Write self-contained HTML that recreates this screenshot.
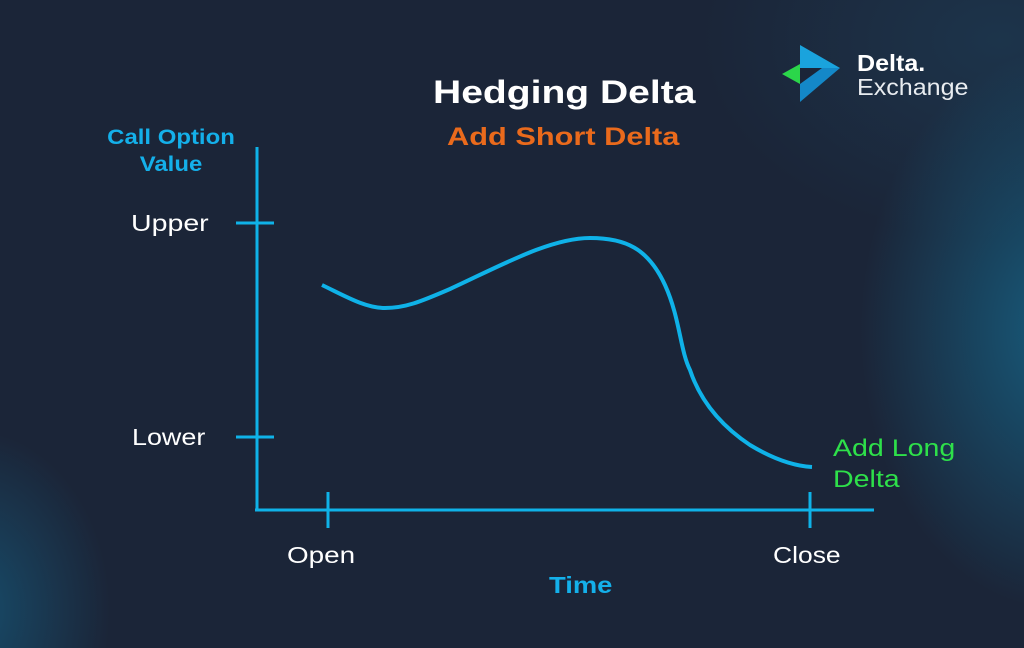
<!DOCTYPE html>
<html><head><style>
html,body{margin:0;padding:0}
body{width:1024px;height:648px;overflow:hidden;position:relative;font-family:"Liberation Sans",sans-serif;
background:radial-gradient(ellipse 200px 280px at 1060px 330px,rgba(20,120,160,0.65),rgba(20,120,160,0) 100%),
radial-gradient(ellipse 140px 180px at -30px 610px,rgba(20,110,150,0.55),rgba(20,110,150,0) 100%),
radial-gradient(ellipse 300px 200px at 1000px 40px,rgba(30,80,110,0.35),rgba(30,80,110,0) 100%),#1b2538;}
.t{position:absolute;white-space:nowrap;transform-origin:0 0}
</style></head><body>
<svg width="1024" height="648" style="position:absolute;left:0;top:0">
<g stroke="#0fb2e8" stroke-width="3" fill="none">
<line x1="257" y1="147" x2="257" y2="511"/>
<line x1="255" y1="510" x2="874" y2="510"/>
<line x1="236" y1="223" x2="274" y2="223"/>
<line x1="236" y1="437" x2="274" y2="437"/>
<line x1="328" y1="492" x2="328" y2="528"/>
<line x1="810" y1="492" x2="810" y2="528"/>
<path stroke-width="4" d="M322 285 C345 296,365 308,385 308 C405 308,420 302,450 289 C500 266,550 238,590 238 C625 238,648 248,665 285 C680 318,680 350,690 370 C700 400,720 425,750 445 C775 460,795 466,812 467"/>
</g>
<polygon points="800,45 840,68 800,90" fill="#1aa3dd"/>
<polygon points="800,68 840,68 800,102" fill="#1488c8"/>
<polygon points="782,74 800,64 800,84" fill="#2bd64a"/>
<polygon points="800,68 822,68 800,84" fill="#1b2538"/>
</svg>
<div class="t" style="left:857px;top:50px;font-size:23px;font-weight:bold;color:#fff;transform:scaleX(1.09)">Delta.</div>
<div class="t" style="left:857px;top:74px;font-size:23px;color:#e8ecf0;transform:scaleX(1.09)">Exchange</div>
<div class="t" style="left:433px;top:74px;font-size:32px;font-weight:bold;color:#fff;transform:scaleX(1.22)">Hedging Delta</div>
<div class="t" style="left:447px;top:123px;font-size:25px;font-weight:bold;color:#ea6a1c;transform:scaleX(1.23)">Add Short Delta</div>
<div class="t" style="left:106px;top:124px;width:130px;text-align:center;font-size:21px;font-weight:bold;color:#14b0ea;line-height:27px;transform:scaleX(1.14);transform-origin:65px 0">Call Option<br>Value</div>
<div class="t" style="left:131px;top:210px;font-size:23px;color:#fff;transform:scaleX(1.24)">Upper</div>
<div class="t" style="left:132px;top:424px;font-size:23px;color:#fff;transform:scaleX(1.17)">Lower</div>
<div class="t" style="left:287px;top:542px;font-size:23px;color:#fff;transform:scaleX(1.21)">Open</div>
<div class="t" style="left:773px;top:542px;font-size:23px;color:#fff;transform:scaleX(1.15)">Close</div>
<div class="t" style="left:549px;top:572px;font-size:23px;font-weight:bold;color:#14b0ea;transform:scaleX(1.19)">Time</div>
<div class="t" style="left:833px;top:433px;font-size:24px;color:#2ee04a;line-height:31px;transform:scaleX(1.19)">Add Long<br>Delta</div>
</body></html>
